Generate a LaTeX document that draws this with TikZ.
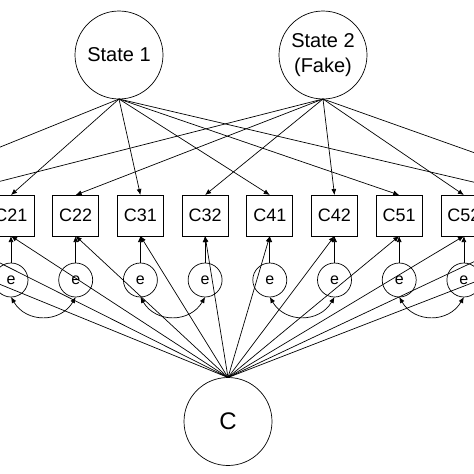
\documentclass[tikz,border=0pt]{standalone}
\usepackage{fontspec}
\setmainfont{Liberation Sans}
\usetikzlibrary{positioning,arrows.meta}
\tikzset{box/.style={rectangle,draw,minimum width=46pt,minimum height=41pt,inner sep=0pt,outer sep=0pt,font=\fontsize{18}{20}\selectfont},
err/.style={circle,draw,minimum size=34pt,inner sep=0pt,outer sep=0pt,font=\fontsize{16}{18}\selectfont},
latent/.style={circle,draw,minimum size=88pt,inner sep=0pt,outer sep=0pt,align=center,font=\fontsize{20}{25}\selectfont},
}
\begin{document}
\begin{tikzpicture}[x=1pt,y=1pt,node distance = 18.7pt,line width=0.7pt,>={Latex[length=6pt,width=5pt]}]
	\useasboundingbox (0,0) rectangle (474,-474);
	\clip (0,0) rectangle (474,-474);
	\node[latent] (s1) at (119,-55){State 1};
	\node[latent] (s2) at (323,-55){State 2\\(Fake)};
	\node[latent,font=\fontsize{24}{28}\selectfont] (c) at (228,-421.5){C};
	
	\node[box] (c21) at (11,-215.5){C21};
	\node[box] (c22)[right = of c21]{C22};
	\node[box] (c31)[right = of c22]{C31};
	\node[box] (c32)[right = of c31]{C32};
	\node[box] (c41)[right = of c32]{C41};
	\node[box] (c42)[right = of c41]{C42};
	\node[box] (c51)[right = of c42]{C51};
	\node[box] (c52)[right = of c51]{C52};
	
	\node[err] (e21)[below = 27pt of c21]{e};
	\node[err] (e22)[below = 27pt of c22]{e};
	\node[err] (e31)[below = 27pt of c31]{e};
	\node[err] (e32)[below = 27pt of c32]{e};
	\node[err] (e41)[below = 27pt of c41]{e};
	\node[err] (e42)[below = 27pt of c42]{e};
	\node[err] (e51)[below = 27pt of c51]{e};
	\node[err] (e52)[below = 27pt of c52]{e};
	
	% indicators outside the frame
	\coordinate (c11t) at (-118.4,-195);
	\coordinate (c11b) at (-118.4,-236);
	\coordinate (c12t) at (-53.7,-195);
	\coordinate (c12b) at (-53.7,-236);
	\coordinate (c61t) at (528.6,-195);
	\coordinate (c61b) at (528.6,-236);
	\coordinate (c62t) at (593.3,-195);
	\coordinate (c62b) at (593.3,-236);
	
	\path[->]
	(s1.south) edge (c11t)
	(s1.south) edge (c21.north)
	(s1.south) edge (c31.north)
	(s1.south) edge (c41.north)
	(s1.south) edge (c51.north)
	(s1.south) edge (c61t)
	(s2.south) edge (c12t)
	(s2.south) edge (c22.north)
	(s2.south) edge (c32.north)
	(s2.south) edge (c42.north)
	(s2.south) edge (c52.north)
	(s2.south) edge (c62t);
	
	\path[->]
	(c.north) edge (c11b)
	(c.north) edge (c12b)
	(c.north) edge (c21.south)
	(c.north) edge (c22.south)
	(c.north) edge (c31.south)
	(c.north) edge (c32.south)
	(c.north) edge (c41.south)
	(c.north) edge (c42.south)
	(c.north) edge (c51.south)
	(c.north) edge (c52.south)
	(c.north) edge (c61b)
	(c.north) edge (c62b);
	
	\path[->]
	(e21) edge (c21)
	(e22) edge (c22)
	(e31) edge (c31)
	(e32) edge (c32)
	(e41) edge (c41)
	(e42) edge (c42)
	(e51) edge (c51)
	(e52) edge (c52);
	
	\path[<->]
	(e21.south) edge[out=-60,in=-120,looseness=1.2] (e22.south)
	(e31.south) edge[out=-60,in=-120,looseness=1.2] (e32.south)
	(e41.south) edge[out=-60,in=-120,looseness=1.2] (e42.south)
	(e51.south) edge[out=-60,in=-120,looseness=1.2] (e52.south);
\end{tikzpicture}
\end{document}
